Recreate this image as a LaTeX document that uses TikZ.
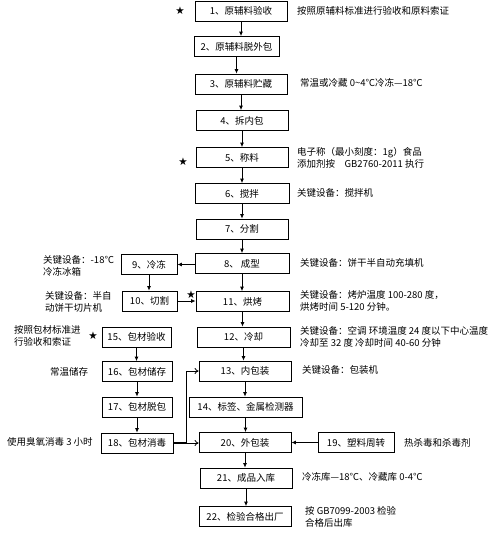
\documentclass[tikz,border=0pt]{standalone}
\usepackage{fontspec}
\setmainfont{Noto Sans CJK SC}
\newfontfamily\symfont{DejaVu Sans}
\usetikzlibrary{arrows.meta}

\tikzset{
  stepbox/.style={draw, line width=0.8pt, minimum height=20pt, inner sep=0pt, font=\fontsize{9.5}{12}\selectfont},
  note/.style={anchor=west, align=left, inner sep=0pt, font=\fontsize{9.5}{12}\selectfont},
  flow/.style={-{Latex[length=4.5pt,width=4pt]}, line width=0.8pt},
  feed/.style={-{To[length=4pt,width=6pt]}, line width=0.8pt},
  starmark/.style={font=\symfont\fontsize{10.5}{10.5}\selectfont, inner sep=0pt}
}

\begin{document}
\begin{tikzpicture}[x=1pt,y=-1pt]
  \useasboundingbox (0,0) rectangle (500,533);

  % main line
  \node[stepbox, minimum width=92pt] (s1) at (241,11) {1、原辅料验收};
  \node[stepbox, minimum width=85pt] (s2) at (236.5,46.5) {2、原辅料脱外包};
  \node[stepbox, minimum width=92pt] (s3) at (241,84) {3、原辅料贮藏};
  \node[stepbox, minimum width=92pt] (s4) at (242,120.5) {4、拆内包};
  \node[stepbox, minimum width=92pt] (s5) at (242,157.5) {5、称料};
  \node[stepbox, minimum width=94pt] (s6) at (242,193.5) {6、搅拌};
  \node[stepbox, minimum width=92pt] (s7) at (242,229) {7、分割};
  \node[stepbox, minimum width=94pt] (s8) at (242,263.5) {8、\ 成型};
  \node[stepbox, minimum width=56pt] (s9) at (149,264.5) {9、冷冻};
  \node[stepbox, minimum width=55pt] (s10) at (149.5,301) {10、切割};
  \node[stepbox, minimum width=93pt] (s11) at (242.5,301.5) {11、烘烤};
  \node[stepbox, minimum width=93pt] (s12) at (243.5,337) {12、冷却};
  \node[stepbox, minimum width=92pt] (s13) at (245,371) {13、内包装};
  \node[stepbox, minimum width=113pt] (s14) at (245.5,407) {14、标签、金属检测器};
  \node[stepbox, minimum width=69pt] (s15) at (136.5,337) {15、包材验收};
  \node[stepbox, minimum width=70pt] (s16) at (137,371.5) {16、包材储存};
  \node[stepbox, minimum width=70pt] (s17) at (137,407) {17、包材脱包};
  \node[stepbox, minimum width=72pt] (s18) at (137,443) {18、包材消毒};
  \node[stepbox, minimum width=76pt] (s19) at (356,442.5) {19、塑料周转};
  \node[stepbox, minimum width=92pt] (s20) at (245,442.5) {20、外包装};
  \node[stepbox, minimum width=92pt] (s21) at (246,478) {21、成品入库};
  \node[stepbox, minimum width=92pt] (s22) at (245,516.5) {22、检验合格出厂};

  % stars
  \node[starmark] (k1) at (180,11) {★};
  \node[starmark] (k5) at (183,162) {★};
  \node[starmark] (k11) at (191,295) {★};
  \node[starmark] (k15) at (93,336) {★};

  % notes
  \node[note] (n1) at (297,11) {按照原辅料标准进行验收和原料索证};
  \node[note] (n3) at (300,83) {常温或冷藏 0\textasciitilde4℃冷冻—18℃};
  \node[note] (n5) at (297,158) {电子称（最小刻度：1g）食品\\添加剂按\quad GB2760-2011 执行};
  \node[note] (n6) at (297,193) {关键设备：搅拌机};
  \node[note] (n8) at (300,263) {关键设备：饼干半自动充填机};
  \node[note] (n9) at (43,265.5) {关键设备：-18℃\\冷冻冰箱};
  \node[note] (n10) at (45,301.5) {关键设备：半自\\动饼干切片机};
  \node[note] (n11) at (300,301) {关键设备：烤炉温度 100-280 度，\\烘烤时间 5-120 分钟。};
  \node[note] (n12) at (300,337) {关键设备：空调 环境温度 24 度以下中心温度\\冷却至 32 度 冷却时间 40-60 分钟};
  \node[note] (n15) at (14,335.5) {按照包材标准进\\行验收和索证};
  \node[note] (n16) at (50,372) {常温储存};
  \node[note] (n13) at (302,370) {关键设备：包装机};
  \node[note] (n18) at (7,442) {使用臭氧消毒 3 小时};
  \node[note] (n19) at (404,443) {热杀毒和杀毒剂};
  \node[note] (n21) at (302,477) {冷冻库—18℃、冷藏库 0-4℃};
  \node[note] (n22) at (305,517) {按 GB7099-2003 检验\\合格后出库};

  % arrows down the main line
  \foreach \a/\b in {s1/s2,s2/s3,s3/s4,s4/s5,s5/s6,s6/s7,s7/s8,s8/s11,s11/s12,
                     s12/s13,s13/s14,s14/s20,s20/s21,s21/s22,s9/s10,s15/s16,s16/s17,s17/s18}
    \draw[flow] (\a.south) -- (\a.south |- \b.north);

  \draw[flow] (s8.west |- s9.east) -- (s9.east);
  \draw[flow] (s10.east) -- (s10.east -| s11.west);
  \draw[flow] (s19.west) -- (s20.east);

  % packing material to the packing steps
  \coordinate (j18) at (186,443);
  \draw[line width=1.8pt] (s18.east) -- (j18);
  \draw[feed] (j18) -- (j18 |- s13.west) -- (s13.west);
  \draw[feed] (j18) -- (s20.west |- j18);
\end{tikzpicture}
\end{document}
